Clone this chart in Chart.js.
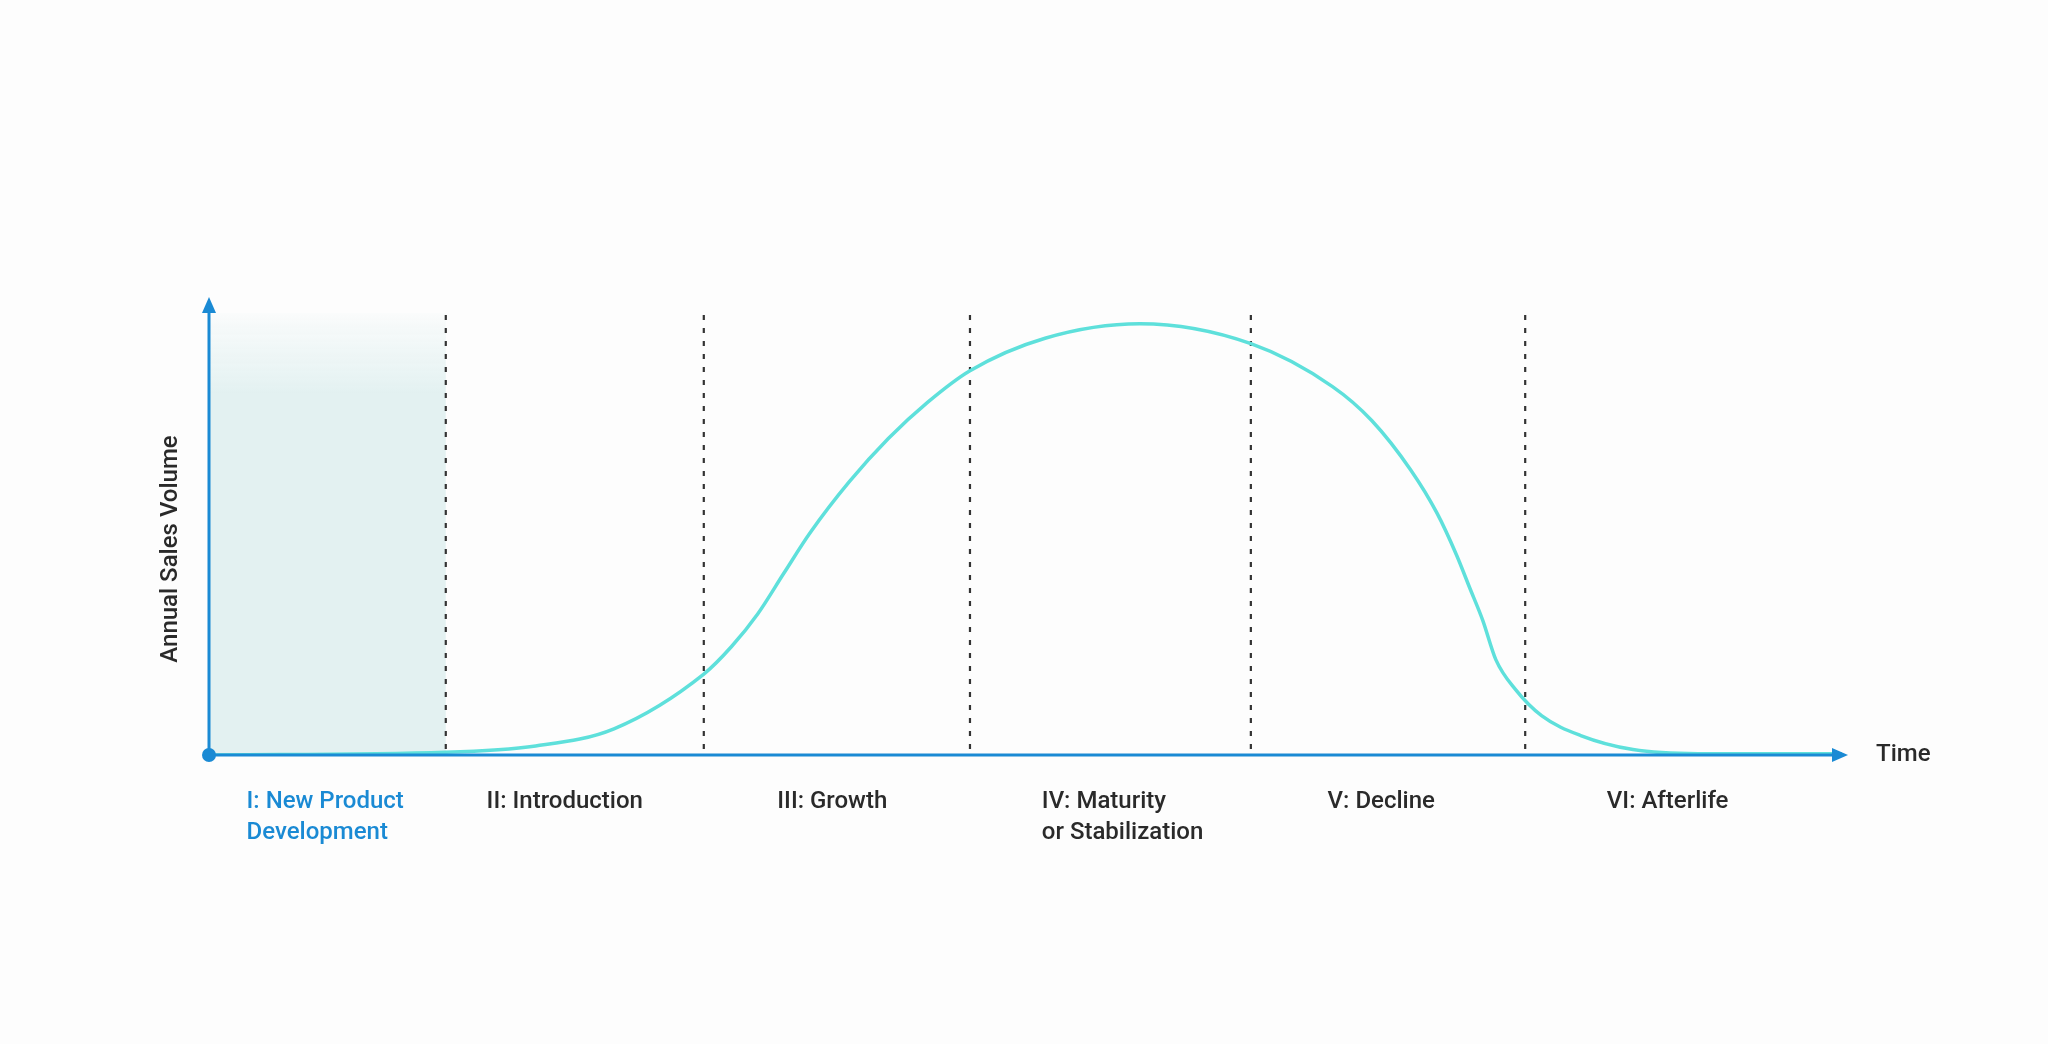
<!DOCTYPE html>
<html><head><meta charset="utf-8">
<script src="https://cdn.jsdelivr.net/npm/chart.js@4"></script>
<style>html,body{margin:0;padding:0;background:#fdfdfd}#w{width:2048px;height:1044px}</style>
</head><body><div id="w"><canvas id="c"></canvas></div>
<script>
const curveX = [0,14.5,20,24.8,30.3,32,33.6,35.2,36.8,39.2,41.6,44,46.6,51.2,57,63.8,68.8,71.2,73.6,75.2,76.4,77.2,78,78.8,80,81.6,84,87.2,91.2,100];
const curveY = [0,0.6,2,5.8,17.9,24.0,31.2,40.2,49.1,60.4,70.0,78.0,85.0,92.2,95.4,91.0,81.5,74.0,63.0,53.5,44.2,37.0,29.8,21.1,14.5,8.7,4.3,1.2,0.3,0.3];
const stageBounds = [14.5,30.3,46.6,63.8,80.6];
const stageLabels = [["I: New Product","Development"],["II: Introduction"],["III: Growth"],["IV: Maturity","or Stabilization"],["V: Decline"],["VI: Afterlife"]];
const stageLabelX = [2.3,17,34.8,51,68.5,85.6];
const xTitle = "Time", yTitle = "Annual Sales Volume";

const AX='#1a8ad4', TXT='#2a2a2a';
const deco = {
  id:'deco',
  beforeDatasetsDraw(ch){
    const {ctx,scales:{x,y}}=ch;
    const x0=x.getPixelForValue(0), y0=y.getPixelForValue(0), top=y.getPixelForValue(100);
    const xs=x.getPixelForValue(stageBounds[0]);
    const g=ctx.createLinearGradient(0,top+10,0,top+90);
    g.addColorStop(0,'rgba(227,241,241,0.1)');g.addColorStop(1,'#e3f1f1');
    ctx.save();ctx.fillStyle=g;ctx.fillRect(x0,top+10,xs-x0,y0-top-10);
    ctx.strokeStyle='#333';ctx.lineWidth=2.2;ctx.setLineDash([5,8]);
    stageBounds.forEach(v=>{const px=x.getPixelForValue(v);ctx.beginPath();ctx.moveTo(px,top+12);ctx.lineTo(px,y0);ctx.stroke();});
    ctx.restore();
  },
  afterDatasetsDraw(ch){
    const {ctx,scales:{x,y}}=ch;
    const x0=x.getPixelForValue(0), y0=y.getPixelForValue(0), top=y.getPixelForValue(100), xe=x.getPixelForValue(100);
    ctx.save();ctx.strokeStyle=AX;ctx.fillStyle=AX;ctx.lineWidth=3;
    ctx.beginPath();ctx.moveTo(x0,y0);ctx.lineTo(x0,top);ctx.moveTo(x0,y0);ctx.lineTo(xe-6,y0);ctx.stroke();
    ctx.beginPath();ctx.moveTo(x0,top-6);ctx.lineTo(x0-7,top+10);ctx.lineTo(x0+7,top+10);ctx.fill();
    ctx.beginPath();ctx.moveTo(xe+6,y0);ctx.lineTo(xe-10,y0-7);ctx.lineTo(xe-10,y0+7);ctx.fill();
    ctx.beginPath();ctx.arc(x0,y0,7,0,Math.PI*2);ctx.fill();
    ctx.font='500 24px Roboto';ctx.textBaseline='middle';
    stageLabels.forEach((l,i)=>{ctx.fillStyle=i===0?AX:TXT;l.forEach((s,j)=>ctx.fillText(s,x.getPixelForValue(stageLabelX[i]),y0+47+j*31));});
    ctx.fillStyle=TXT;ctx.fillText(xTitle,xe+34,y0);
    ctx.translate(x0-38,y0-206);ctx.rotate(-Math.PI/2);ctx.textAlign='center';ctx.fillText(yTitle,0,0);
    ctx.restore();
  }
};
new Chart(document.getElementById('c'),{
  type:'line',
  data:{datasets:[{data:curveX.map((v,i)=>({x:v,y:curveY[i]})),borderColor:'#5ee0db',borderWidth:3.5,pointRadius:0,cubicInterpolationMode:'monotone',fill:false}]},
  options:{responsive:true,maintainAspectRatio:false,animation:false,
    layout:{padding:{left:209,right:206,top:303,bottom:289}},
    plugins:{legend:{display:false},tooltip:{enabled:false}},
    scales:{x:{type:'linear',min:0,max:100,display:false},y:{min:0,max:100,display:false}}},
  plugins:[deco]
});
</script></body></html>
